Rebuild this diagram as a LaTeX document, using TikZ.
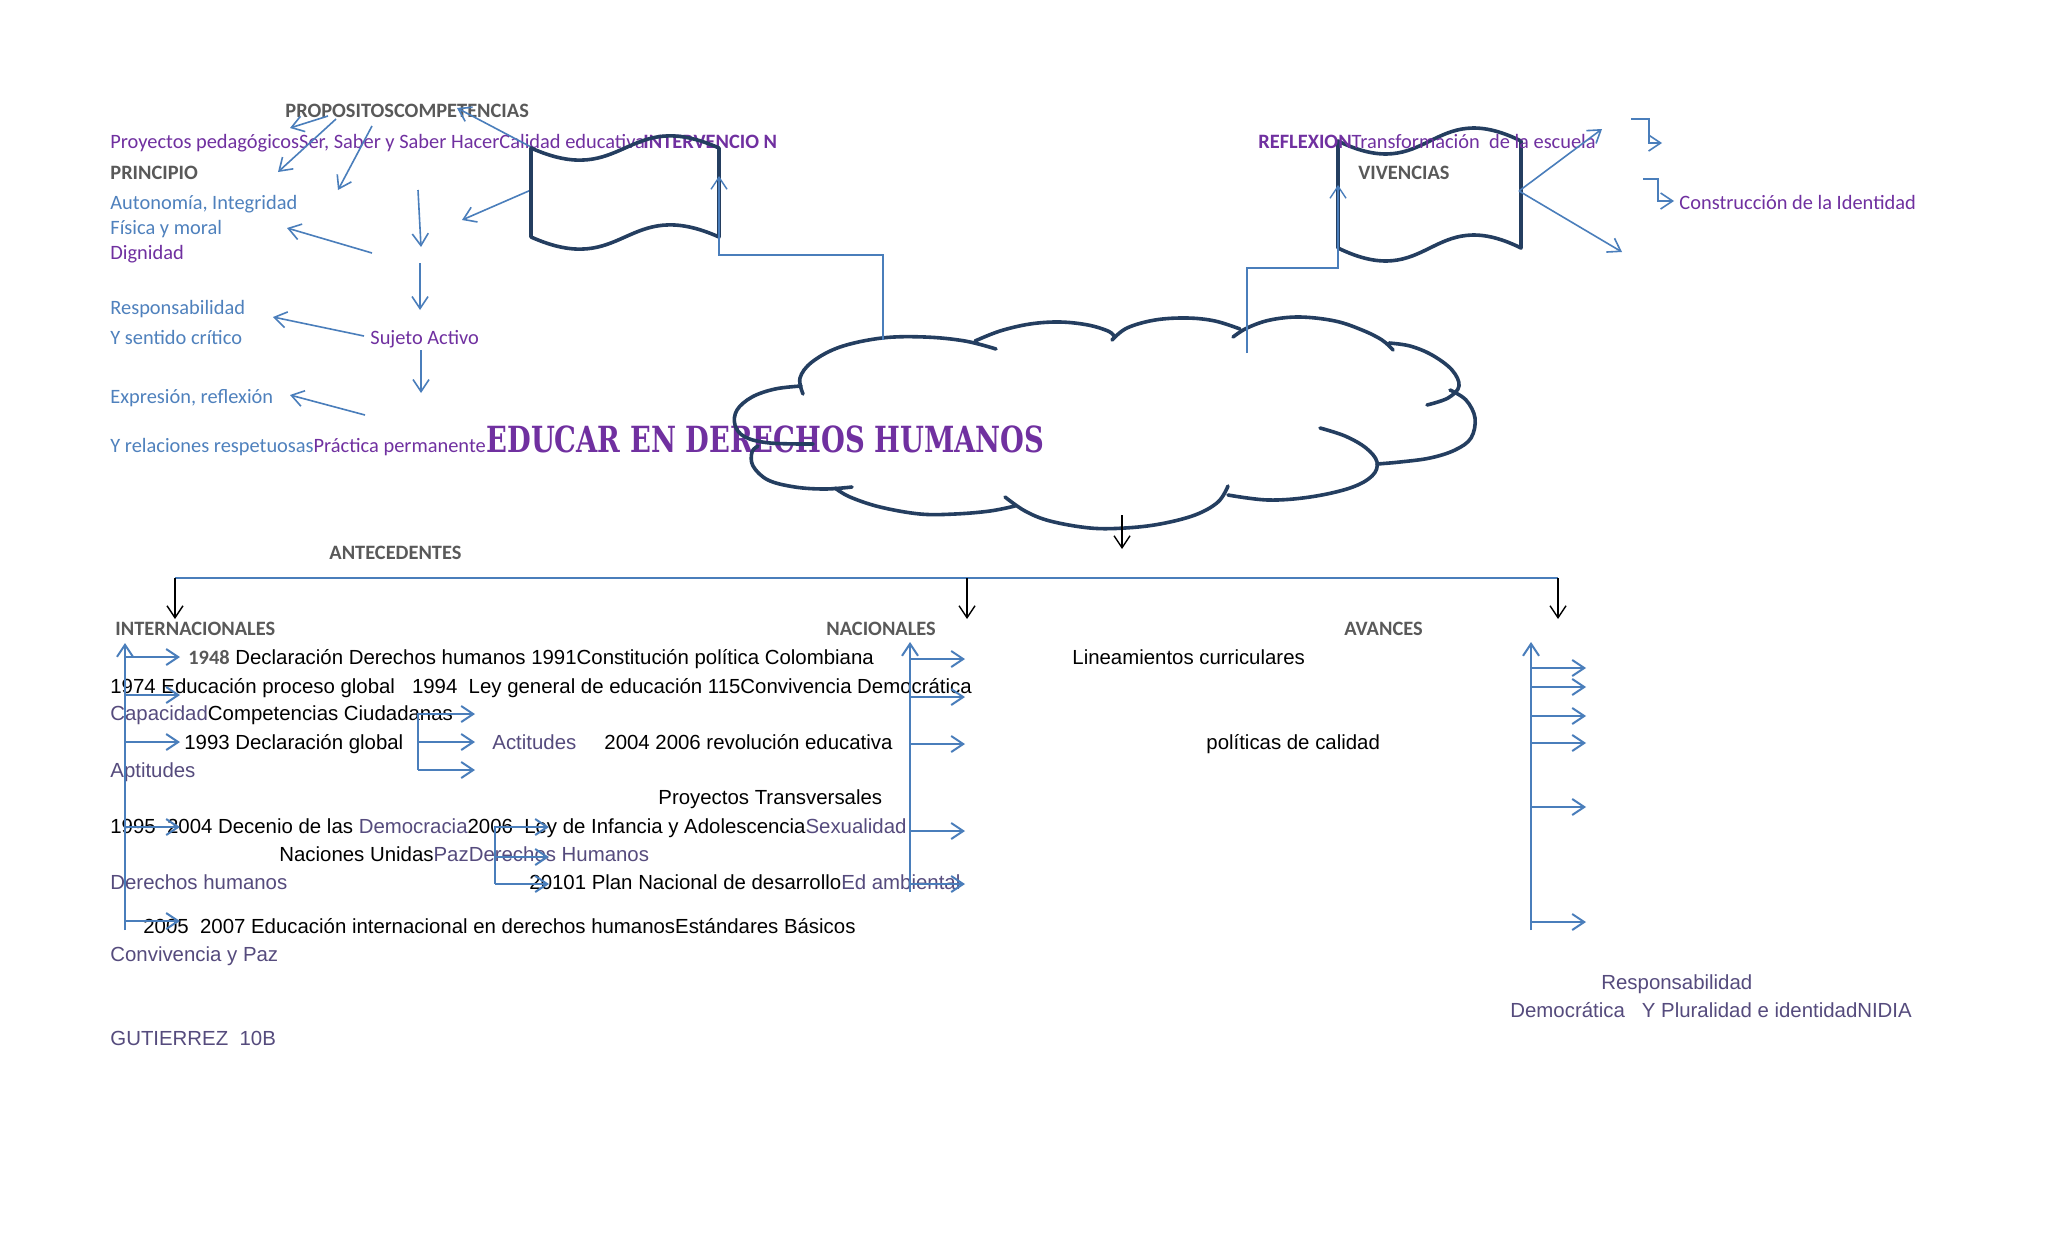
\documentclass[tikz,border=0pt]{standalone}
\usepackage{fontspec}
\setmainfont{Carlito}
\newfontfamily\arialfont{Liberation Sans}
\newfontfamily\titlefont[FakeStretch=0.76]{DejaVu Serif}
\usetikzlibrary{arrows.meta}
\definecolor{hgray}{RGB}{89,89,89}
\definecolor{dpurple}{RGB}{112,48,160}
\definecolor{tblue}{RGB}{79,129,189}
\definecolor{pgray}{RGB}{85,75,125}
\definecolor{ablue}{RGB}{74,126,187}
\definecolor{navy}{RGB}{36,62,96}
\newcommand{\bodysize}{\fontsize{10.2}{12.2}\selectfont}

\begin{document}
\begin{tikzpicture}[x=0.5pt,y=-0.5pt,>={Straight Barb[length=6pt,width=8pt]},
  every node/.style={inner sep=0pt,anchor=base west,font=\bodysize},
  hdr/.style={font=\bodysize\bfseries,text=hgray},
  ptx/.style={text=dpurple},
  btx/.style={text=tblue},
  atx/.style={font=\arialfont\bodysize},
  gtx/.style={font=\arialfont\bodysize,text=pgray},
  arr/.style={->,draw=ablue,line width=1pt},
  tarr/.style={->,draw=ablue,line width=0.8pt},
  karr/.style={->,line width=0.7pt},
  conn/.style={draw=ablue,line width=0.7pt},
  navyline/.style={draw=navy,line width=1.8pt,line join=round,line cap=round}]
  \fill[white] (0,0) rectangle (2048,1243);
  \useasboundingbox (0,0) rectangle (2048,1243);

  % propositos / principio
  \node[hdr] (prop) at (285,117) {PROPOSITOSCOMPETENCIAS};
  \node[ptx] (proy) at (110,148) {Proyectos pedagógicosSer, Saber y Saber HacerCalidad educativa};
  \node[ptx,font=\bodysize\bfseries] (interv) at (643,148) {INTERVENCIO N};
  \node[hdr] (princ) at (110,179) {PRINCIPIO};
  \node[btx] (auto) at (110,209) {Autonomía, Integridad};
  \node[btx] (fis) at (110,234) {Física y moral};
  \node[ptx] (dign) at (110,259) {Dignidad};
  \node[btx] (resp) at (110,314) {Responsabilidad};
  \node[btx] (sent) at (110,344) {Y sentido crítico};
  \node[ptx] (suj) at (370,344) {Sujeto Activo};
  \node[btx] (expr) at (110,403) {Expresión, reflexión};
  \node[btx] (rel) at (110,452) {Y relaciones respetuosas\textcolor{dpurple}{Práctica permanente}};
  \node[text=dpurple,font={\titlefont\bfseries\fontsize{18}{18}\selectfont}] (title) at (rel.base east) {EDUCAR EN DERECHOS HUMANOS};

  \foreach \sx/\sy/\ex/\ey in {328/116/290/128, 336/119/278/172, 372/126/338/190,
      531/190/462/220, 531/147/457/108, 418/190/421/247, 372/253/287/228,
      420/263/420/310, 364/336/273/317, 421/350/421/393, 365/415/290/395}
    \draw[tarr] (\sx,\sy) -- (\ex,\ey);

  % scrolls
  \draw[navyline] (531,148) .. controls (625,190) and (625,106) .. (719,148) -- (719,237)
    .. controls (625,195) and (625,279) .. (531,237) -- cycle;
  \draw[navyline] (1338,141) .. controls (1430,186) and (1430,96) .. (1521,141) -- (1521,248)
    .. controls (1430,203) and (1430,293) .. (1338,248) -- cycle;

  % cloud
  \begin{scope}[navyline]
    \draw plot[smooth,tension=0.6] coordinates {(803,394) (800,378) (812,362) (840,347) (882,338) (925,337) (965,341) (996,349)};
    \draw plot[smooth,tension=0.6] coordinates {(975,341) (1000,331) (1030,324) (1060,322) (1088,325) (1108,331) (1114,336)};
    \draw plot[smooth,tension=0.6] coordinates {(1112,340) (1127,328) (1155,320) (1187,318) (1215,321) (1240,329)};
    \draw plot[smooth,tension=0.6] coordinates {(1233,337) (1247,328) (1270,320) (1300,317) (1335,321) (1362,330) (1382,340) (1393,350)};
    \draw plot[smooth,tension=0.6] coordinates {(1389,343) (1410,346) (1432,355) (1452,370) (1459,386) (1448,398) (1427,405)};
    \draw plot[smooth,tension=0.6] coordinates {(1450,390) (1466,400) (1475,418) (1471,438) (1455,450) (1430,458) (1400,462) (1377,464)};
    \draw plot[smooth,tension=0.6] coordinates {(1320,428) (1345,436) (1366,448) (1377,462) (1372,476) (1350,488) (1310,497) (1268,500) (1228,495)};
    \draw plot[smooth,tension=0.6] coordinates {(1228,486) (1218,502) (1195,515) (1160,524) (1125,528) (1090,528) (1050,521) (1025,511) (1005,497)};
    \draw plot[smooth,tension=0.6] coordinates {(1015,506) (990,511) (955,514) (920,514) (880,507) (850,497) (835,488)};
    \draw plot[smooth,tension=0.6] coordinates {(852,487) (825,489) (795,487) (768,480) (753,466) (752,452) (758,446)};
    \draw plot[smooth,tension=0.6] coordinates {(801,386) (775,389) (752,397) (737,410) (735,425) (745,437) (770,443) (813,444)};
  \end{scope}

  \coordinate (intTip) at (719,176);
  \coordinate (vivTip) at (1338,185);
  \coordinate (cloudL) at (883,340);
  \coordinate (cloudR) at (1247,353);
  \coordinate (cloudB) at (1122,515);
  \coordinate (antTip) at (1122,549);
  \draw[conn,->] (cloudL) -- (883,255) -| (intTip);
  \draw[conn,->] (cloudR) -- (1247,268) -| (vivTip);

  % reflexion / vivencias
  \node[ptx] (refl) at (1258,148) {\textbf{REFLEXION}Transformación\ \ de la escuela};
  \node[hdr] (viv) at (1358,179) {VIVENCIAS};
  \node[ptx] (ident) at (1679,209) {Construcción de la Identidad};
  \coordinate (vivR) at (1519,191);
  \draw[tarr] (vivR) -- (1602,129);
  \draw[tarr] (vivR) -- (1622,252);
  \draw[tarr] (1631,119) -| (1649,143) -- (1662,143);
  \draw[tarr] (1643,179) -| (1658,201) -- (1674,201);

  % antecedentes
  \draw[karr] (cloudB) -- (antTip);
  \node[hdr] (ante) at (329,559) {ANTECEDENTES};
  \draw[conn] (175,578) -- (1558,578);
  \foreach \x in {175,967,1558} \draw[karr] (\x,578) -- (\x,619);
  \node[hdr] (inter) at (115,635) {INTERNACIONALES};
  \node[hdr] (nac) at (826,635) {NACIONALES};
  \node[hdr] (avan) at (1344,635) {AVANCES};

  \node[atx] (r1) at (188,664) {{\normalfont\bodysize\bfseries\color{hgray}1948} Declaración Derechos humanos 1991Constitución política Colombiana};
  \node[atx] (r2) at (110,693) {1974 Educación proceso global\ \ \ 1994\ \ Ley general de educación 115Convivencia Democrática};
  \node[gtx] (r3) at (110,720) {Capacidad\textcolor{black}{Competencias Ciudadanas}};
  \node[atx] (r4) at (184,749) {1993 Declaración global};
  \node[gtx] (act) at (492,749) {Actitudes};
  \node[atx] (rev) at (604,749) {2004 2006 revolución educativa};
  \node[gtx] (apt) at (110,777) {Aptitudes};
  \node[atx] (ptr) at (658,804) {Proyectos Transversales};
  \node[atx] (r7) at (110,833) {1995\ \ 2004 Decenio de las \textcolor{pgray}{Democracia}2006\ \ Ley de Infancia y Adolescencia\textcolor{pgray}{Sexualidad}};
  \node[atx] (r8) at (279,861) {Naciones Unidas\textcolor{pgray}{PazDerechos Humanos}};
  \node[gtx] (dh) at (110,889) {Derechos humanos};
  \node[atx] (pnd) at (529,889) {20101 Plan Nacional de desarrollo\textcolor{pgray}{Ed ambiental}};
  \node[atx] (r10) at (143,933) {2005\ \ 2007 Educación internacional en derechos humanosEstándares Básicos};
  \node[gtx] (conv) at (110,961) {Convivencia y Paz};
  \node[gtx] (gut) at (110,1045) {GUTIERREZ\ \ 10B};
  \node[atx] (lin) at (1072,664) {Lineamientos curriculares};
  \node[atx] (pol) at (1206,749) {políticas de calidad};
  \node[gtx] (resp2) at (1601,989) {Responsabilidad};
  \node[gtx] (demo) at (1510,1017) {Democrática\ \ \ Y Pluralidad e identidadNIDIA};

  % brackets
  \draw[arr] (125,930) -- (125,643);
  \foreach \y in {657,695,742,827,921} \draw[arr] (125,\y) -- (180,\y);
  \draw[ablue,line width=1pt] (418,713) -- (418,770);
  \foreach \y in {714,742,770} \draw[arr] (418,\y) -- (475,\y);
  \draw[ablue,line width=1pt] (495,826) -- (495,884);
  \foreach \y in {827,857,884} \draw[arr] (495,\y) -- (549,\y);
  \draw[arr] (910,892) -- (910,642);
  \foreach \y in {659,697,744,831,884} \draw[arr] (910,\y) -- (965,\y);
  \draw[arr] (1531,930) -- (1531,642);
  \foreach \y in {668,687,716,743,807,922} \draw[arr] (1531,\y) -- (1586,\y);
\end{tikzpicture}
\end{document}
